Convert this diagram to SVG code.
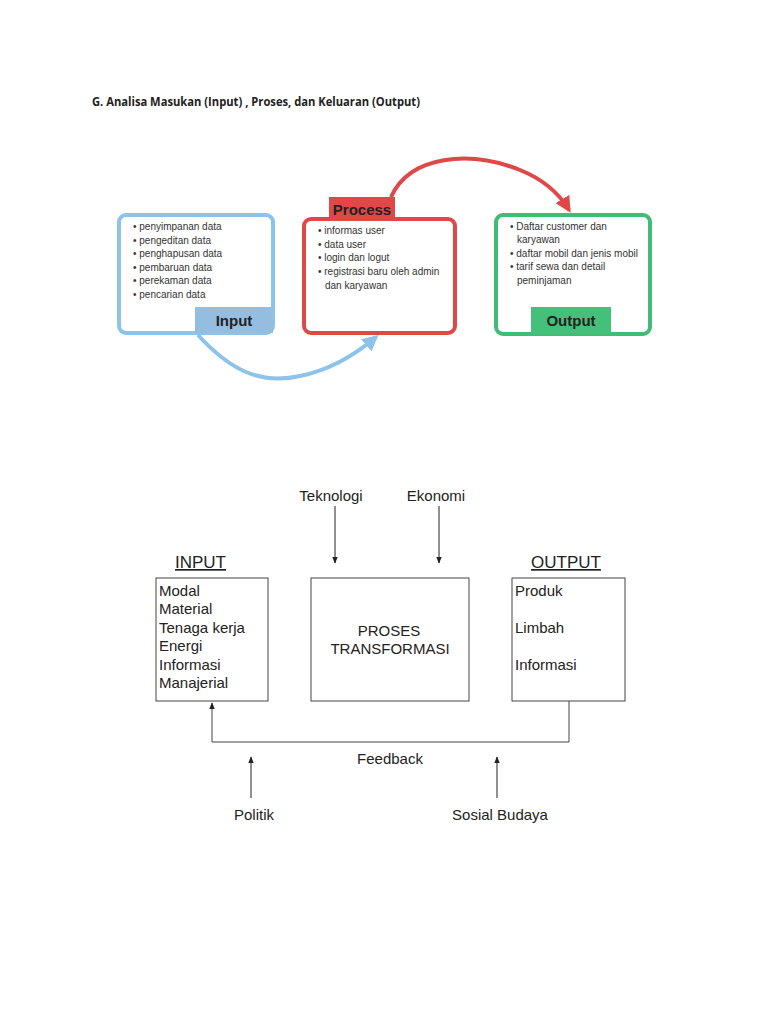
<svg xmlns="http://www.w3.org/2000/svg" width="768" height="1024" viewBox="0 0 768 1024">
<style>
.s{font-family:"Liberation Sans",Arial,sans-serif;fill:#222}
.sm{font-size:10px;fill:#333}
.lb{font-size:15px;font-weight:bold;fill:#222}
.b{font-size:15px;fill:#222}
.box{fill:#fff;stroke:#444;stroke-width:1}
</style>
<defs>
<marker id="ab" viewBox="0 0 10 10" refX="8" refY="5" markerWidth="4" markerHeight="4" orient="auto"><path d="M0,0L10,5L0,10z" fill="#8DC3EB"/></marker>
<marker id="ar" viewBox="0 0 10 10" refX="8" refY="5" markerWidth="4" markerHeight="4" orient="auto"><path d="M0,0L10,5L0,10z" fill="#E04848"/></marker>
<marker id="ak" viewBox="0 0 10 10" refX="9" refY="5" markerWidth="7" markerHeight="7" orient="auto"><path d="M0,1L10,5L0,9z" fill="#222"/></marker>
</defs>
<rect width="768" height="1024" fill="#fff"/>
<text class="s" x="92" y="106" textLength="328" lengthAdjust="spacingAndGlyphs" style="font-size:12.5px;font-weight:bold;font-family:'Open Sans','Liberation Sans',sans-serif">G. Analisa Masukan (Input) , Proses, dan Keluaran (Output)</text>
<g id="connectors">
<path d="M198,335 C230,370 260,385 300,376 C330,370 355,355 376,337" fill="none" stroke="#8DC3EB" stroke-width="4" marker-end="url(#ab)"/>
<path d="M391,197 C410,155 470,150 520,170 C545,180 560,195 569,210" fill="none" stroke="#E04848" stroke-width="4" marker-end="url(#ar)"/>
<line x1="335" y1="506" x2="335" y2="563" stroke="#222" marker-end="url(#ak)"/>
<line x1="439" y1="506" x2="439" y2="563" stroke="#222" marker-end="url(#ak)"/>
<polyline points="569,701 569,742 212,742 212,703" fill="none" stroke="#444" marker-end="url(#ak)"/>
<line x1="251" y1="798" x2="251" y2="757" stroke="#222" marker-end="url(#ak)"/>
<line x1="497" y1="798" x2="497" y2="757" stroke="#222" marker-end="url(#ak)"/>
</g>
<g id="input-top">
<rect x="119" y="215" width="154" height="118" rx="7" fill="#fff" stroke="#8DC3EB" stroke-width="4"/>
<rect x="195" y="307" width="78" height="26" fill="#94BDE0"/>
<text class="s lb" x="234" y="326" text-anchor="middle">Input</text>
<text class="s sm" x="133" y="230">• penyimpanan data</text>
<text class="s sm" x="133" y="244">• pengeditan data</text>
<text class="s sm" x="133" y="257">• penghapusan data</text>
<text class="s sm" x="133" y="271">• pembaruan data</text>
<text class="s sm" x="133" y="284">• perekaman data</text>
<text class="s sm" x="133" y="298">• pencarian data</text>
</g>
<g id="process-top">
<rect x="304" y="219" width="151" height="114" rx="7" fill="#fff" stroke="#E04848" stroke-width="4"/>
<rect x="329" y="197" width="66" height="24" fill="#E04848"/>
<text class="s lb" x="362" y="215" text-anchor="middle">Process</text>
<text class="s sm" x="318" y="234">• informas user</text>
<text class="s sm" x="318" y="248">• data user</text>
<text class="s sm" x="318" y="261">• login dan logut</text>
<text class="s sm" x="318" y="275">• registrasi baru oleh admin</text>
<text class="s sm" x="325" y="289">dan karyawan</text>
</g>
<g id="output-top">
<rect x="496" y="215" width="154" height="119" rx="7" fill="#fff" stroke="#3DBE74" stroke-width="4"/>
<rect x="531" y="307" width="80" height="27" fill="#45C07A"/>
<text class="s lb" x="571" y="326" text-anchor="middle">Output</text>
<text class="s sm" x="510" y="230">• Daftar customer dan</text>
<text class="s sm" x="517" y="243">karyawan</text>
<text class="s sm" x="510" y="257">• daftar mobil dan jenis mobil</text>
<text class="s sm" x="510" y="270">• tarif sewa dan detail</text>
<text class="s sm" x="517" y="284">peminjaman</text>
</g>
<g id="input-bottom">
<text class="s" x="175" y="568" style="font-size:17px;text-decoration:underline">INPUT</text>
<rect class="box" x="156" y="578" width="112" height="123"/>
<text class="s b" x="159" y="596">Modal</text>
<text class="s b" x="159" y="614">Material</text>
<text class="s b" x="159" y="633">Tenaga kerja</text>
<text class="s b" x="159" y="651">Energi</text>
<text class="s b" x="159" y="670">Informasi</text>
<text class="s b" x="159" y="688">Manajerial</text>
</g>
<g id="process-bottom">
<rect class="box" x="311" y="578" width="158" height="123"/>
<text class="s b" x="389" y="636" text-anchor="middle">PROSES</text>
<text class="s b" x="390" y="654" text-anchor="middle">TRANSFORMASI</text>
</g>
<g id="output-bottom">
<text class="s" x="531" y="568" style="font-size:17px;text-decoration:underline">OUTPUT</text>
<rect class="box" x="512" y="578" width="113" height="123"/>
<text class="s b" x="515" y="596">Produk</text>
<text class="s b" x="515" y="633">Limbah</text>
<text class="s b" x="515" y="670">Informasi</text>
</g>
<g id="labels">
<text class="s b" x="331" y="501" text-anchor="middle">Teknologi</text>
<text class="s b" x="436" y="501" text-anchor="middle">Ekonomi</text>
<text class="s b" x="390" y="764" text-anchor="middle">Feedback</text>
<text class="s b" x="254" y="820" text-anchor="middle">Politik</text>
<text class="s b" x="500" y="820" text-anchor="middle">Sosial Budaya</text>
</g>
</svg>
